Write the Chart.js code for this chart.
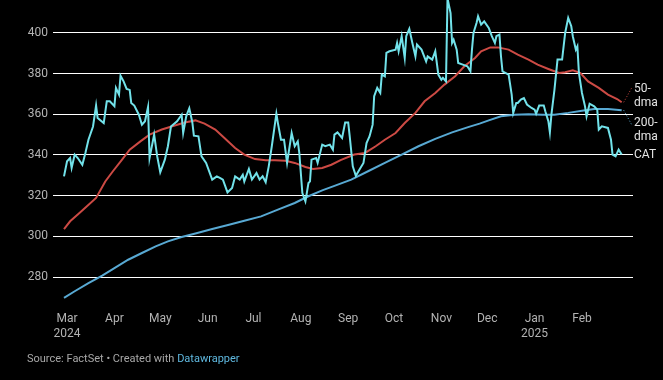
<!DOCTYPE html>
<html>
<head>
<meta charset="utf-8">
<script src="https://cdn.jsdelivr.net/npm/chart.js@4"></script>
<style>
html, body { margin: 0; padding: 0; background: #000; }
#wrap { position: relative; width: 663px; height: 380px; }
#source { position: absolute; left: 27px; top: 352px; font: 11px Roboto; color: #a8a8a8; white-space: nowrap; }
#source span { color: #5fb8df; }
</style>
</head>
<body>
<div id="wrap">
  <canvas id="mycanvas" width="663" height="380"></canvas>
  <div id="source">Source: FactSet • Created with <span>Datawrapper</span></div>
</div>
<script>
// x values are days since 2024-03-01
var monthDays = [0, 31, 61, 92, 122, 153, 184, 214, 245, 275, 306, 337];
var monthLabels = [['Mar', '2024'], 'Apr', 'May', 'Jun', 'Jul', 'Aug', 'Sep', 'Oct', 'Nov', 'Dec', ['Jan', '2025'], 'Feb'];
var yTicks = [280, 300, 320, 340, 360, 380, 400];

var catDays = [-2,0,2,3,5,7,10,12,14,17,
  19,20,24,26,28,31,32,34,35,37,
  39,41,42,44,47,49,51,53,54,57,
  59,61,64,66,68,72,75,76,78,80,
  82,83,86,88,91,95,98,100,102,105,
  108,110,113,115,116,119,121,124,126,128,
  130,132,134,137,138,140,142,144,147,149,
  151,152,154,156,158,159,160,163,164,167,
  169,172,174,175,177,180,182,184,185,187,
  189,192,194,196,198,200,201,203,205,206,
  208,209,211,215,216,217,219,221,222,224,
  226,228,229,232,235,236,239,241,243,245,
  246,248,249,251,252,253,255,256,259,262,
  264,265,266,268,269,271,273,276,278,280,
  281,283,284,285,289,291,292,294,295,297,
  299,301,304,306,307,309,312,313,315,316,
  317,319,321,324,326,328,330,331,333,334,
  335,337,339,340,342,345,347,348,350,354,
  356,357,359,361,363];
var catValues = [329.5,336.9,338.5,333.6,340.2,338.5,335.2,341,347.5,354,
  364.3,358.2,355.7,366.4,366.4,364,373,369.7,379,376.2,
  372.5,372,365.6,364.3,359.8,354.9,356.6,363.6,338.5,350,
  339.3,331.5,337.7,344.3,354,356.6,359.8,350.8,359,363,
  356,349.5,349.2,339.3,336.1,327.9,329.5,328.7,327.9,321.6,
  323.8,329.5,327.9,330.3,327,333.1,327.9,331.1,327.9,329.5,
  326.6,334.4,344.3,360.3,355.7,347.5,347.5,336.1,350.8,344.3,
  346.7,341,321.3,317.2,326.2,327,337.7,338.5,336.1,345.1,
  344.3,345.1,342.6,350,351.1,348.4,356,356,349.2,334.4,
  329.8,333.6,336.1,345.9,349.2,354.9,368.9,373,370.5,379.5,
  378.7,390.2,391,391.8,395.1,391,398.4,387.7,398.4,402,
  395.1,388.5,394.3,391.8,386,388.5,386.9,391,379.5,377,
  377.9,376.2,417,409.8,395.1,396.7,391.8,385.2,384.4,383.6,
  381.1,391.8,400,404.9,408.2,404.1,405.7,402.5,398.4,395.1,
  398.4,399.2,388.5,381.1,379.5,369.7,360.7,365.6,365.6,367.2,
  368,364.8,363.1,362.3,360.3,364.3,364.3,361.5,356.6,351.1,
  359.8,372.1,386.9,386.9,400,407.4,403.3,398.4,391.8,393.4,
  380.3,370.5,363.9,359,365.2,363.9,362.3,352.5,354.1,353.3,
  347.5,340.2,339.3,342.6,340.2];

var dma50Days = [-2,2,7,13,19,25,30,36,41,48,
  54,62,70,77,84,90,97,103,110,116,
  123,130,136,143,149,156,161,167,173,179,
  188,195,202,208,215,221,228,234,241,247,
  254,260,267,271,277,282,289,295,302,308,
  315,322,326,331,336,341,348,354,360,363];
var dma50Values = [303.6,307.4,310.7,314.8,318.9,327,332,337.7,342.6,346.7,
  350,352.5,354.4,356,357,355.4,352.5,348.4,343.4,340.2,
  338,337.4,337.4,337.2,336.1,334.1,333.1,333.6,335.2,337.5,
  340.2,341,344.3,347.5,350.8,355.7,360.7,366.4,370.5,374.6,
  378.7,383.6,387.7,391,392.9,392.9,391.8,389.3,386.9,384.4,
  382.3,380.3,380.7,381.6,380.3,376.2,373,369.7,367.5,365.9];

var dma200Days = [-2,5,14,23,31,40,49,58,66,75,
  84,95,106,116,127,138,149,158,167,175,
  186,197,208,219,230,241,252,263,270,276,
  284,293,302,311,319,328,337,345,354,363];
var dma200Values = [269.7,273,277,280.7,284.4,288.5,291.8,295.1,297.5,299.7,
  301.4,303.6,305.7,307.7,309.8,313.1,316.4,319.7,322.6,324.8,
  327.9,332,336.1,340.2,344.3,347.9,351.1,353.8,355.4,357,
  359,359.8,360,359.8,359.8,360.7,361.8,362.6,362.6,362];

function pairs(xs, ys) {
  return xs.map(function(x, i) { return {x: x, y: ys[i]}; });
}

var endLabels = {
  id: 'endLabels',
  afterDatasetsDraw: function(chart) {
    var ctx = chart.ctx, area = chart.chartArea;
    var xs = chart.scales.x, ys = chart.scales.y;
    ctx.save();
    ctx.font = '12px Roboto';
    ctx.textBaseline = 'middle';
    ctx.textAlign = 'left';
    chart.data.datasets.forEach(function(ds) {
      var last = ds.data[ds.data.length - 1];
      var px = xs.getPixelForValue(last.x);
      var py = ys.getPixelForValue(last.y);
      var lh = 14;
      var first = py + ds.labelShift - (ds.endLabel.length - 1) * lh / 2;
      if (ds.labelShift != 0) {
        ctx.strokeStyle = ds.borderColor;
        ctx.lineWidth = 1;
        ctx.setLineDash([1, 2]);
        ctx.beginPath();
        ctx.moveTo(px + 2, py);
        ctx.lineTo(area.right - 1, first + (ds.labelShift < 0 ? -2 : 2));
        ctx.stroke();
        ctx.setLineDash([]);
      }
      ctx.fillStyle = '#e4e4e4';
      ds.endLabel.forEach(function(t, k) {
        ctx.fillText(t, area.right + 1, first + k * lh);
      });
    });
    ctx.restore();
  }
};

var ctx = document.getElementById('mycanvas');

var chart = new Chart(ctx, {
  type: 'line',
  data: {
    datasets: [
      {
        label: 'CAT',
        data: pairs(catDays, catValues),
        borderColor: '#72e2ea',
        borderWidth: 2,
        pointRadius: 0,
        tension: 0,
        endLabel: ['CAT'],
        labelShift: 0
      },
      {
        label: '50-dma',
        data: pairs(dma50Days, dma50Values),
        borderColor: '#cc4a44',
        borderWidth: 2,
        pointRadius: 0,
        tension: 0,
        endLabel: ['50-', 'dma'],
        labelShift: -6
      },
      {
        label: '200-dma',
        data: pairs(dma200Days, dma200Values),
        borderColor: '#58a9d3',
        borderWidth: 2,
        pointRadius: 0,
        tension: 0,
        endLabel: ['200-', 'dma'],
        labelShift: 20
      }
    ]
  },
  options: {
    responsive: false,
    animation: false,
    layout: { padding: { left: 0, right: 30, top: 0, bottom: 0 } },
    scales: {
      x: {
        type: 'linear',
        min: -9.2,
        max: 370.4,
        grid: { display: false },
        border: { display: false },
        afterBuildTicks: function(s) { s.ticks = monthDays.map(function(v) { return {value: v}; }); },
        afterFit: function(s) { s.height = 80; s.paddingLeft = 0; s.paddingRight = 0; },
        ticks: {
          autoSkip: false,
          maxRotation: 0,
          padding: 4,
          color: '#b3b3b3',
          font: { family: 'Roboto', size: 12 },
          callback: function(v) { return monthLabels[monthDays.indexOf(v)]; }
        }
      },
      y: {
        min: 268.7,
        max: 416.2,
        grid: { color: '#ffffff', lineWidth: 1, drawTicks: false },
        border: { display: false },
        afterBuildTicks: function(s) { s.ticks = yTicks.map(function(v) { return {value: v}; }); },
        afterFit: function(s) { s.width = 53; s.paddingTop = 0; s.paddingBottom = 0; },
        ticks: {
          padding: 5,
          color: '#b3b3b3',
          font: { family: 'Roboto', size: 12 }
        }
      }
    },
    plugins: {
      legend: { display: false },
      tooltip: { enabled: false }
    }
  },
  plugins: [endLabels]
});
</script>
</body>
</html>
